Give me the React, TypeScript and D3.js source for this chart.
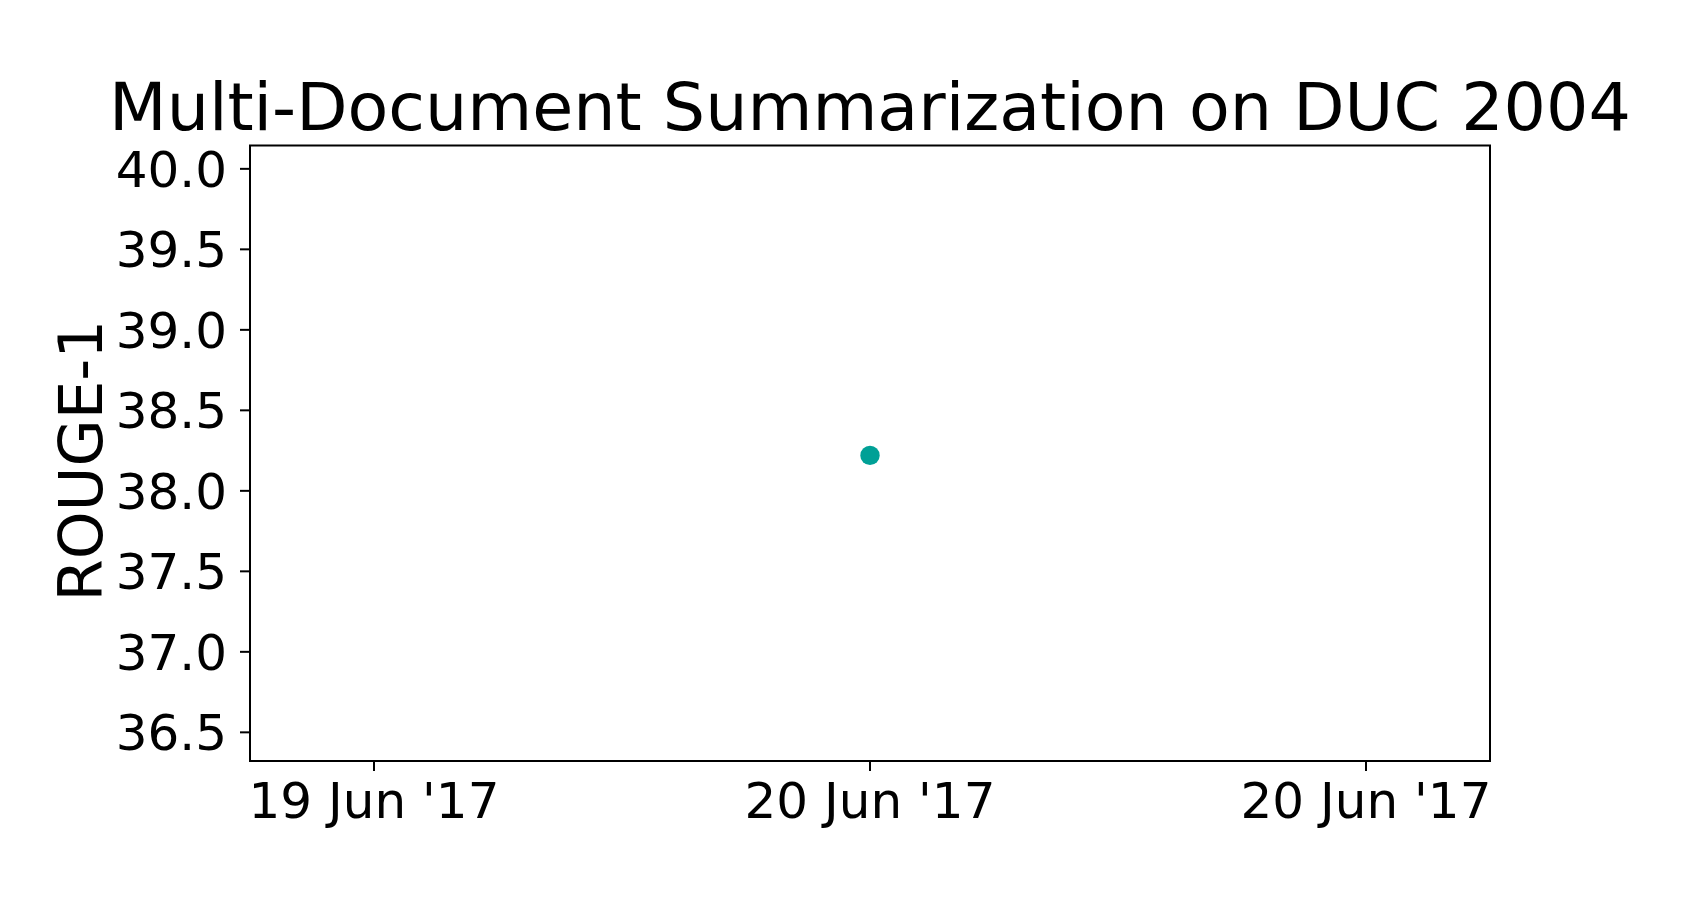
import React from "react";
import * as d3 from "d3";

const title = "Multi-Document Summarization on DUC 2004";
const yLabel = "ROUGE-1";
const pointDates = ["2017-06-20T00:00:00"];
const pointValues = [38.22];
const yTicks = [36.5, 37.0, 37.5, 38.0, 38.5, 39.0, 39.5, 40.0];
const xTickDates = ["2017-06-19T12:00:00", "2017-06-20T00:00:00", "2017-06-20T12:00:00"];
const xTickLabels = ["19 Jun '17", "20 Jun '17", "20 Jun '17"];
const xDomain = ["2017-06-19T09:00:00", "2017-06-20T15:00:00"];
const yDomain = [36.322, 40.145];

const W = 1700;
const H = 900;
const M = { left: 250, right: 1490, top: 145.5, bottom: 761 };
const FONT = "DejaVu Sans, sans-serif";

export default function App() {
  const x = d3
    .scaleTime()
    .domain(xDomain.map((d) => new Date(d)))
    .range([M.left, M.right]);
  const y = d3.scaleLinear().domain(yDomain).range([M.bottom, M.top]);
  const fmt = d3.format(".1f");

  return (
    <div style={{ position: "fixed", left: 0, top: 0 }}>
      <svg width={W} height={H} style={{ display: "block", background: "#fff" }}>
        <text
          x={(M.left + M.right) / 2}
          y={130}
          textAnchor="middle"
          fontFamily={FONT}
          fontSize={66.7}
          fill="#000"
        >
          {title}
        </text>
        <text
          transform={`translate(102,${(M.top + M.bottom) / 2 + 7.5}) rotate(-90)`}
          textAnchor="middle"
          fontFamily={FONT}
          fontSize={61}
          fill="#000"
        >
          {yLabel}
        </text>
        {yTicks.map((t) => (
          <g key={t}>
            <line x1={M.left - 10} x2={M.left} y1={y(t)} y2={y(t)} stroke="#000" strokeWidth={2} />
            <text
              x={M.left - 23}
              y={y(t)}
              dy="0.36em"
              textAnchor="end"
              fontFamily={FONT}
              fontSize={50}
              fill="#000"
            >
              {fmt(t)}
            </text>
          </g>
        ))}
        {xTickDates.map((t, i) => {
          const xx = x(new Date(t));
          return (
            <g key={i}>
              <line x1={xx} x2={xx} y1={M.bottom} y2={M.bottom + 10} stroke="#000" strokeWidth={2} />
              <text x={xx} y={818} textAnchor="middle" fontFamily={FONT} fontSize={50} fill="#000">
                {xTickLabels[i]}
              </text>
            </g>
          );
        })}
        {pointDates.map((d, i) => (
          <circle key={i} cx={x(new Date(d))} cy={y(pointValues[i])} r={9.7} fill="#00A096" />
        ))}
        <rect
          x={M.left}
          y={M.top}
          width={M.right - M.left}
          height={M.bottom - M.top}
          fill="none"
          stroke="#000"
          strokeWidth={2}
        />
      </svg>
    </div>
  );
}
